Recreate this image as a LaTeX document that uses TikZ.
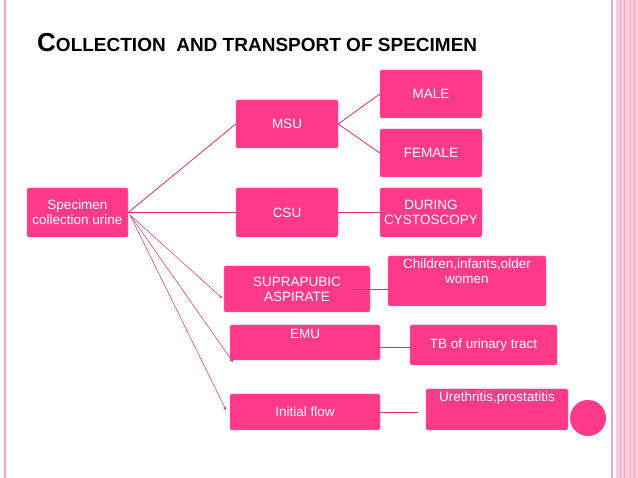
\documentclass[tikz,border=0pt]{standalone}
\usepackage{fontspec}
\setmainfont{Liberation Sans}
\begin{document}
\begin{tikzpicture}[x=1pt,y=-1pt,
  bx/.style={fill=boxpink,draw=boxpink!80!white,rounded corners=2pt,text=white,align=center,font=\fontsize{13.5}{15}\selectfont,inner sep=0pt},
  ln/.style={draw=linepink,line width=0.8pt},
  ar/.style={draw=linepink,line width=0.5pt,-stealth}]
\definecolor{boxpink}{HTML}{FF3A8A}
\definecolor{linepink}{HTML}{D8306E}
\definecolor{bord}{HTML}{F4A6C4}
\useasboundingbox (0,0) rectangle (638,478);
\fill[white] (0,0) rectangle (638,478);
\fill[bord!60] (616,0) rectangle (638,478);
\foreach \x in {620,624,630,634} \draw[bord,line width=0.6pt] (\x,0) -- (\x,478);
\draw[bord,line width=1.2pt] (5,0) -- (5,478);
\draw[bord,line width=1.2pt] (612,0) -- (612,478);
\node[anchor=west,font=\bfseries\fontsize{26}{28}\selectfont,inner sep=0] (title) at (37,43) {C{\fontsize{19}{21}\selectfont OLLECTION\ \ AND TRANSPORT OF SPECIMEN}};
\node[bx,minimum width=101,minimum height=49] (sp) at (77.5,212.5) {Specimen\\collection urine};
\node[bx,minimum width=102,minimum height=48] (msu) at (287,124) {MSU};
\node[bx,minimum width=102,minimum height=48] (male) at (431,94) {MALE};
\node[bx,minimum width=102,minimum height=48] (fem) at (431,153) {FEMALE};
\node[bx,minimum width=102,minimum height=49] (csu) at (287,212.5) {CSU};
\node[bx,minimum width=102,minimum height=49] (dur) at (431,212.5) {DURING\\CYSTOSCOPY};
\node[bx,minimum width=146,minimum height=46] (sup) at (297,289) {SUPRAPUBIC\\ASPIRATE};
\node[bx,minimum width=158,minimum height=50] (chi) at (467,281) {Children,infants,older\\women\\[4pt]};
\node[bx,minimum width=150,minimum height=35] (emu) at (305,342.5) {EMU\\[2pt]};
\node[bx,minimum width=147,minimum height=40] (tb) at (483.5,345) {TB of urinary tract};
\node[bx,minimum width=150,minimum height=36] (ini) at (305,412) {Initial flow};
\node[bx,minimum width=142,minimum height=41] (ure) at (497,409.5) {Urethritis,prostatitis\\[10pt]};
\node[circle,fill=boxpink,minimum size=36,inner sep=0] (dot) at (588,418) {};
\coordinate (o) at (130,215);
\draw[ln] (sp.east) -- (msu.west);
\draw[ln] (sp.east) -- (csu.west);
\draw[ln] (msu.east) -- (male.west);
\draw[ln] (msu.east) -- (fem.west);
\draw[ln] (csu.east) -- (dur.west);
\draw[ar] (o) -- (222,298);
\draw[ar] (o) -- (233,362);
\draw[ar] (o) -- (226,410);
\draw[ln] (352,289) -- (chi.west |- 0,289);
\draw[ln] (emu.east |- 0,347) -- (tb.west |- 0,347);
\draw[ln] (ini.east |- 0,412) -- (418,412);
\end{tikzpicture}
\end{document}
